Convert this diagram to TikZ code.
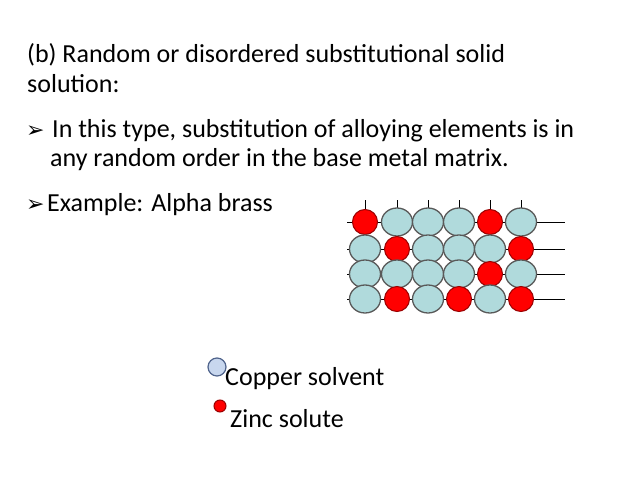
\documentclass[tikz,border=0pt]{standalone}
\usepackage{fontspec}
\setmainfont{Carlito}
\newfontfamily\djv{DejaVu Sans}
\usetikzlibrary{shapes.geometric}
\begin{document}
\begin{tikzpicture}[x=1pt,y=-1pt,
  txt/.style={anchor=base west,inner sep=0pt,font=\fontsize{26}{30}\selectfont},
  cu/.style={draw=black!65,line width=1.3pt,ellipse,inner sep=0pt,minimum width=31pt,minimum height=28pt},
  zn/.style={draw=red!60!black,line width=1pt,fill=red,circle,inner sep=0pt,minimum size=25pt},
  grid/.style={line width=0.9pt,black}]
\useasboundingbox (0,0) rectangle (638,479);
\node[txt] (t1) at (27,62) {(b) Random or disordered substitutional solid};
\node[txt] (t2) at (27,92) {solution:};
\node[txt] (a1) at (26,137) {\djv\fontsize{22}{24}\selectfont ➢};
\node[txt] (t3) at (52,137) {In this type, substitution of alloying elements is in};
\node[txt] (t4) at (50,166) {any random order in the base metal matrix.};
\node[txt] (a2) at (26,211) {\djv\fontsize{22}{24}\selectfont ➢};
\node[txt] (t5) at (47,211) {Example: Alpha brass};
\foreach \x in {365,397,428,459,490,521} \draw[grid] (\x,200) -- (\x,312);
\foreach \y in {222,249,274,299} \draw[grid] (347,\y) -- (565,\y);
\def\cols{{365,397,428,459,490,521}}
\foreach \r/\y/\pat in {1/222/{1,0,0,0,1,0},2/249/{0,1,0,0,0,1},3/274/{0,0,0,0,1,0},4/299/{0,1,0,1,0,1}}{
  \foreach \t [count=\i from 0] in \pat {
    \pgfmathsetmacro\xx{\cols[\i]}
    \ifnum\t=1 \node[zn] (s\r-\i) at (\xx,\y) {};
    \else \node[cu,fill={rgb,255:red,176;green,218;blue,220}] (s\r-\i) at (\xx,\y) {};\fi
  }
}
\node[circle,draw={rgb,255:red,80;green,100;blue,140},line width=1.2pt,fill={rgb,255:red,200;green,215;blue,238},minimum size=18pt,inner sep=0pt] (lc) at (217,367) {};
\node[txt] (lt1) at (225,385) {Copper solvent};
\node[circle,draw=red!60!black,line width=1pt,fill=red,minimum size=12pt,inner sep=0pt] (lz) at (220,406) {};
\node[txt] (lt2) at (230,427) {Zinc solute};
\end{tikzpicture}
\end{document}
